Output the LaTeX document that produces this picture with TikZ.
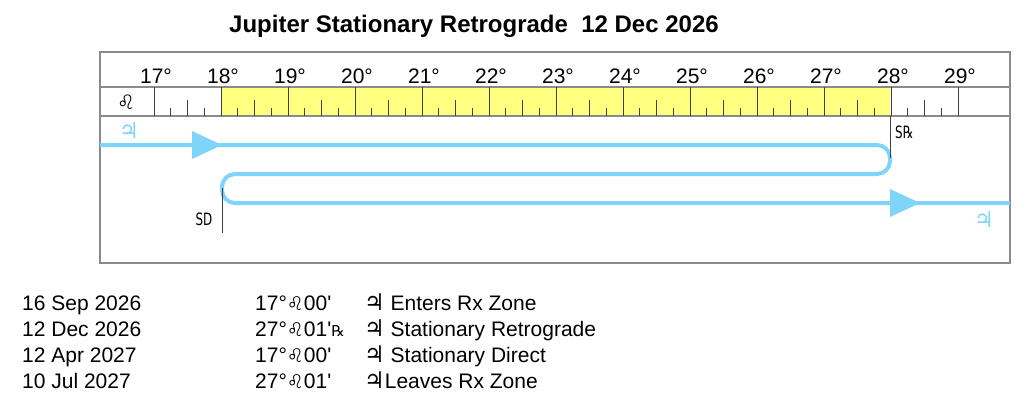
\documentclass[tikz,border=0pt]{standalone}
\usepackage{fontspec,graphicx}
\newfontfamily\lsans{Liberation Sans}
\newfontfamily\symfont{DejaVu Sans}
\definecolor{jupblue}{HTML}{7FD4FA}
\definecolor{zoneyellow}{HTML}{FFFF80}
\definecolor{framegray}{HTML}{8A8A8A}
\newcommand{\fs}[1]{\fontsize{#1}{#1}\selectfont}
\newcommand{\jup}{{\symfont\fs{23}♃}}
\newcommand{\leo}{{\symfont\fs{19}♌}}
\newcommand{\rxs}{{\symfont\fs{15}℞}}

\begin{document}
\begin{tikzpicture}[x=1pt,y=-1pt,
		frame/.style={draw=framegray,line width=1.2pt},
		tick/.style={draw=black!75,line width=0.8pt},
		motion/.style={draw=jupblue,line width=4pt},
		deg/.style={anchor=base,font=\lsans\fs{21}},
		row/.style={anchor=base west,font=\lsans\fs{21}},
		planet/.style={anchor=base west,text=jupblue,font=\symfont\fs{22},inner sep=0pt}]
	\useasboundingbox (0,0) rectangle (1024,405);
	\node[anchor=base,font=\lsans\bfseries\fs{24}] (title) at(474,32){Jupiter Stationary Retrograde\ \ 12 Dec 2026};
	\fill[zoneyellow] (222,87) rectangle (890,116);
	\draw[frame] (100,52) rectangle (1010,263);
	\draw[frame] (100,87)--(1010,87) (100,116)--(1010,116);
	\node[anchor=center,font=\symfont\fs{20}] (sign) at(126,102){♌};
	\foreach \d in{17,...,29}{
		\pgfmathsetmacro\x{154+67*(\d-17)}
		\draw[tick] (\x,87)--(\x,116);
		\node[deg] (deg\d) at(\x+2,83){\d°};
	}
	\foreach \d in{17,...,28}{
		\pgfmathsetmacro\x{154+67*(\d-17)}
		\draw[tick] (\x+16.75,108)--(\x+16.75,116);
		\draw[tick] (\x+33.5,100)--(\x+33.5,116);
		\draw[tick] (\x+50.25,108)--(\x+50.25,116);
	}
	\draw[motion,rounded corners=13pt] (100,145)--(890,145)--(890,174)--(222,174)--(222,203)--(1010,203);
	\fill[jupblue] (222,145)--(192,131)--(192,159)--cycle;
	\fill[jupblue] (920,203)--(890,189)--(890,217)--cycle;
	\node[planet] (jin) at(119,138){♃};
	\node[planet] (jout) at(974,227){♃};
	\draw[tick] (890,116)--(890,158);
	\draw[tick] (222,188)--(222,233);
	\node[anchor=base west,inner sep=0pt] (sr) at(895,138){\scalebox{0.7}[1]{\symfont\fs{17}S℞}};
	\node[anchor=base,inner sep=0pt] (sd) at(204,225){\scalebox{0.7}[1]{\symfont\fs{17}SD}};
	\foreach \dt/\pos/\ev[count=\i] in{16 Sep 2026/17°\leo00'/\jup{} Enters Rx Zone,
		12 Dec 2026/27°\leo01'\rxs/\jup{} Stationary Retrograde,
		12 Apr 2027/17°\leo00'/\jup{} Stationary Direct,
		10 Jul 2027/27°\leo01'/\jup{}Leaves Rx Zone}{
		\pgfmathsetmacro\y{284+26*\i}
		\node[row,inner sep=0pt] (date\i) at(22,\y){\dt};
		\node[row,inner sep=0pt] (pos\i) at(255,\y){\pos};
		\node[row,inner sep=0pt] (ev\i) at(364,\y){\ev};
	}
\end{tikzpicture}
\end{document}
